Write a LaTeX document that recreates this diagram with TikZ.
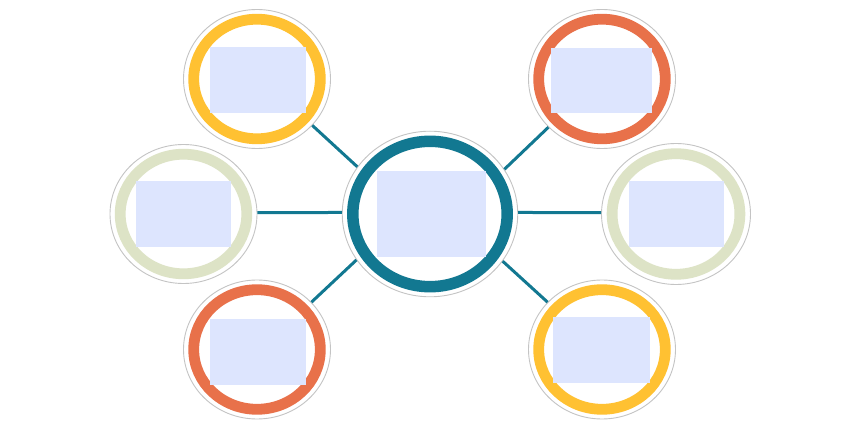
\documentclass[tikz,border=0pt]{standalone}
\usetikzlibrary{shapes.geometric}
\definecolor{teal1}{HTML}{127891}
\definecolor{yel}{HTML}{FFC132}
\definecolor{ora}{HTML}{E8714A}
\definecolor{grn}{HTML}{DDE3C6}
\definecolor{boxc}{HTML}{DDE5FE}
\definecolor{thin}{HTML}{C4C4C4}
\tikzset{
  outer/.style={ellipse, draw=thin, line width=0.9pt, inner sep=0pt, fill=white},
  sat/.style={outer, minimum width=147pt, minimum height=139pt},
  ring/.style={line width=10.8pt},
  box/.style={rectangle, fill=boxc, inner sep=0pt, draw=none},
  link/.style={draw=teal1, line width=3pt}
}
\begin{document}
\begin{tikzpicture}[x=1pt,y=-1pt]
\useasboundingbox (0,0) rectangle (860,430);
% nodes (outer thin ellipses)
\node[outer, minimum width=175.5pt, minimum height=165.6pt] (c) at (430,214) {};
\node[sat] (tl) at (257,79) {};
\node[sat] (tr) at (602,79) {};
\node[sat] (l) at (183.5,214) {};
\node[sat, minimum width=149pt, minimum height=141pt] (r) at (676,214) {};
\node[sat] (bl) at (257,349.5) {};
\node[sat] (br) at (602,349.5) {};
% connectors
\draw[link] (c.147) -- (tl.-40);
\draw[link] (c.31) -- (tr.-138.3);
\draw[link] (c.179) -- (l.1);
\draw[link] (c.1) -- (r.179);
\draw[link] (c.212.5) -- (bl.41.2);
\draw[link] (c.-33.3) -- (br.139.5);
% rings
\draw[ring, draw=teal1, line width=11.5pt] (c.center) ellipse [x radius=77.2, y radius=72.7];
\draw[ring, draw=yel] (tl.center) ellipse [x radius=63.3, y radius=59.8];
\draw[ring, draw=ora] (tr.center) ellipse [x radius=63.3, y radius=59.8];
\draw[ring, draw=grn] (l.center) ellipse [x radius=63.3, y radius=59.8];
\draw[ring, draw=grn] (r.center) ellipse [x radius=63.9, y radius=60.3];
\draw[ring, draw=ora] (bl.center) ellipse [x radius=63.3, y radius=59.8];
\draw[ring, draw=yel] (br.center) ellipse [x radius=63.3, y radius=59.8];
% boxes
\node[box, minimum width=109pt, minimum height=86pt] (cb) at (431,214) {};
\node[box, minimum width=96pt, minimum height=66pt] (tlb) at (258,80.3) {};
\node[box, minimum width=100.5pt, minimum height=65pt] (trb) at (601.3,80.2) {};
\node[box, minimum width=95.5pt, minimum height=66pt] (lb) at (183.3,214) {};
\node[box, minimum width=95.5pt, minimum height=66pt] (rb) at (676.7,213.8) {};
\node[box, minimum width=96pt, minimum height=66pt] (blb) at (258,352.5) {};
\node[box, minimum width=96.5pt, minimum height=66.5pt] (brb) at (601.7,350) {};
\end{tikzpicture}
\end{document}
